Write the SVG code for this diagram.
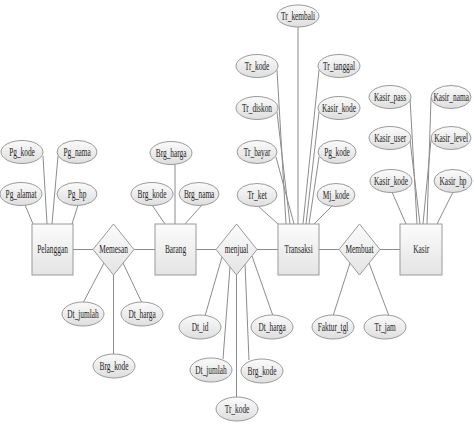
<svg xmlns="http://www.w3.org/2000/svg" width="474" height="425" viewBox="0 0 474 425">
<defs>
<linearGradient id="gE" x1="0" y1="0" x2="0" y2="1"><stop offset="0" stop-color="#fbfbfb"/><stop offset="1" stop-color="#dedede"/></linearGradient>
<linearGradient id="gR" x1="0" y1="0" x2="0" y2="1"><stop offset="0" stop-color="#fcfcfc"/><stop offset="1" stop-color="#e4e4e4"/></linearGradient>
</defs>
<style>
.c line{stroke:#8c8c8c;stroke-width:1;fill:none}
.ent rect{fill:url(#gR);stroke:#9a9a9a;stroke-width:1}
.rel polygon{fill:url(#gR);stroke:#9a9a9a;stroke-width:1}
.att ellipse{fill:url(#gE);stroke:#9a9a9a;stroke-width:1}
text{font-family:"Liberation Serif","Times New Roman",serif;font-size:11.5px;fill:#1e1e1e;text-anchor:middle;transform-box:fill-box;transform-origin:center;transform:scaleX(0.64)}
</style>
<rect width="474" height="425" fill="#fff"/>
<g id="connectors" class="c">
<line x1="43" y1="156" x2="47" y2="224"/><line x1="58" y1="156" x2="52" y2="224"/><line x1="25" y1="205" x2="33" y2="224"/><line x1="78" y1="205" x2="72" y2="224"/>
<line x1="175" y1="164" x2="175" y2="224"/><line x1="152" y1="205" x2="165" y2="224"/><line x1="202" y1="205" x2="185" y2="224"/>
<line x1="298" y1="27" x2="298" y2="224"/><line x1="277" y1="70" x2="286" y2="224"/><line x1="277" y1="112" x2="290" y2="224"/><line x1="276" y1="157" x2="294" y2="224"/><line x1="319" y1="70" x2="303" y2="224"/><line x1="319" y1="112" x2="306" y2="224"/><line x1="319" y1="157" x2="309" y2="224"/><line x1="258" y1="206" x2="278" y2="224"/><line x1="332" y1="206" x2="314" y2="224"/>
<line x1="410" y1="98" x2="417" y2="224"/><line x1="431" y1="98" x2="427" y2="224"/><line x1="410" y1="140" x2="420" y2="224"/><line x1="431" y1="140" x2="423" y2="224"/><line x1="392" y1="192" x2="406" y2="224"/><line x1="453" y1="192" x2="437" y2="224"/>
<line x1="73" y1="249.5" x2="93" y2="249.5"/><line x1="134" y1="249.5" x2="155" y2="249.5"/><line x1="196" y1="249.5" x2="216" y2="249.5"/><line x1="257" y1="249.5" x2="278" y2="249.5"/><line x1="319" y1="249.5" x2="339" y2="249.5"/><line x1="380" y1="249.5" x2="400" y2="249.5"/>
<line x1="83" y1="303" x2="104" y2="263"/><line x1="142" y1="303" x2="123" y2="263"/><line x1="113.5" y1="275" x2="113.5" y2="355"/>
<line x1="205" y1="316" x2="222" y2="257"/><line x1="223" y1="359" x2="230" y2="267"/><line x1="236.5" y1="275" x2="236.5" y2="398"/><line x1="249" y1="360" x2="245" y2="264"/><line x1="273" y1="316" x2="252" y2="256"/>
<line x1="333" y1="316" x2="350" y2="263"/><line x1="389" y1="316" x2="369" y2="263"/>
</g>
<g id="Pelanggan" class="ent"><rect x="32" y="224" width="41" height="51"/><text x="52.5" y="253.5">Pelanggan</text></g>
<g id="Barang" class="ent"><rect x="155" y="224" width="41" height="51"/><text x="175.5" y="253.5">Barang</text></g>
<g id="Transaksi" class="ent"><rect x="278" y="224" width="41" height="51"/><text x="298.5" y="253.5">Transaksi</text></g>
<g id="Kasir" class="ent"><rect x="400" y="224" width="42" height="51"/><text x="421" y="253.5">Kasir</text></g>
<g id="Memesan" class="rel"><polygon points="93,249.5 113.5,224 134,249.5 113.5,275"/><text x="113.5" y="253.5">Memesan</text></g>
<g id="menjual" class="rel"><polygon points="216,249.5 236.5,224 257,249.5 236.5,275"/><text x="236.5" y="253.5">menjual</text></g>
<g id="Membuat" class="rel"><polygon points="339,249.5 359.5,224 380,249.5 359.5,275"/><text x="359.5" y="253.5">Membuat</text></g>
<g id="a_pg_kode" class="att"><ellipse cx="22" cy="152" rx="21" ry="11.5"/><text x="22" y="156">Pg_kode</text></g>
<g id="a_pg_nama" class="att"><ellipse cx="77" cy="152" rx="20" ry="11.5"/><text x="77" y="156">Pg_nama</text></g>
<g id="a_pg_alamat" class="att"><ellipse cx="21" cy="194" rx="21" ry="11.5"/><text x="21" y="198">Pg_alamat</text></g>
<g id="a_pg_hp" class="att"><ellipse cx="77" cy="194" rx="20" ry="11.5"/><text x="77" y="198">Pg_hp</text></g>
<g id="a_brg_harga" class="att"><ellipse cx="171" cy="153" rx="21" ry="11.5"/><text x="171" y="157">Brg_harga</text></g>
<g id="a_brg_kode" class="att"><ellipse cx="152" cy="194" rx="21" ry="11.5"/><text x="152" y="198">Brg_kode</text></g>
<g id="a_brg_nama" class="att"><ellipse cx="199" cy="194" rx="20" ry="11.5"/><text x="199" y="198">Brg_nama</text></g>
<g id="a_tr_kembali" class="att"><ellipse cx="298" cy="16" rx="21" ry="11"/><text x="298" y="20">Tr_kembali</text></g>
<g id="a_tr_kode" class="att"><ellipse cx="257" cy="66" rx="21" ry="11.5"/><text x="257" y="70">Tr_kode</text></g>
<g id="a_tr_tanggal" class="att"><ellipse cx="339" cy="66" rx="21" ry="11.5"/><text x="339" y="70">Tr_tanggal</text></g>
<g id="a_tr_diskon" class="att"><ellipse cx="257" cy="108" rx="21" ry="11.5"/><text x="257" y="112">Tr_diskon</text></g>
<g id="a_tr_kasir_kode" class="att"><ellipse cx="339" cy="108" rx="21" ry="11.5"/><text x="339" y="112">Kasir_kode</text></g>
<g id="a_tr_bayar" class="att"><ellipse cx="257" cy="152" rx="20" ry="11.5"/><text x="257" y="156">Tr_bayar</text></g>
<g id="a_tr_pg_kode" class="att"><ellipse cx="337" cy="152" rx="19" ry="11.5"/><text x="337" y="156">Pg_kode</text></g>
<g id="a_tr_ket" class="att"><ellipse cx="257" cy="195" rx="20" ry="11.5"/><text x="257" y="199">Tr_ket</text></g>
<g id="a_mj_kode" class="att"><ellipse cx="336" cy="195" rx="19" ry="11.5"/><text x="336" y="199">Mj_kode</text></g>
<g id="a_kasir_pass" class="att"><ellipse cx="390" cy="97" rx="21" ry="11.5"/><text x="390" y="101">Kasir_pass</text></g>
<g id="a_kasir_nama" class="att"><ellipse cx="451" cy="97" rx="20" ry="11.5"/><text x="451" y="101">Kasir_nama</text></g>
<g id="a_kasir_user" class="att"><ellipse cx="390" cy="138" rx="21" ry="11.5"/><text x="390" y="142">Kasir_user</text></g>
<g id="a_kasir_level" class="att"><ellipse cx="451" cy="138" rx="20" ry="11.5"/><text x="451" y="142">Kasir_level</text></g>
<g id="a_kasir_kode" class="att"><ellipse cx="391" cy="181" rx="21" ry="11.5"/><text x="391" y="185">Kasir_kode</text></g>
<g id="a_kasir_hp" class="att"><ellipse cx="453" cy="181" rx="19" ry="11.5"/><text x="453" y="185">Kasir_hp</text></g>
<g id="a_ms_dt_jumlah" class="att"><ellipse cx="83" cy="314" rx="21" ry="12"/><text x="83" y="318">Dt_jumlah</text></g>
<g id="a_ms_dt_harga" class="att"><ellipse cx="142" cy="314" rx="21" ry="12"/><text x="142" y="318">Dt_harga</text></g>
<g id="a_ms_brg_kode" class="att"><ellipse cx="114" cy="366" rx="21" ry="12"/><text x="114" y="370">Brg_kode</text></g>
<g id="a_mj_dt_id" class="att"><ellipse cx="200" cy="327" rx="21" ry="12"/><text x="200" y="331">Dt_id</text></g>
<g id="a_mj_dt_harga" class="att"><ellipse cx="272" cy="327" rx="21" ry="12"/><text x="272" y="331">Dt_harga</text></g>
<g id="a_mj_dt_jumlah" class="att"><ellipse cx="211" cy="370" rx="21" ry="12"/><text x="211" y="374">Dt_jumlah</text></g>
<g id="a_mj_brg_kode" class="att"><ellipse cx="262" cy="371" rx="21" ry="12"/><text x="262" y="375">Brg_kode</text></g>
<g id="a_mj_tr_kode" class="att"><ellipse cx="237" cy="409" rx="21" ry="12"/><text x="237" y="413">Tr_kode</text></g>
<g id="a_faktur_tgl" class="att"><ellipse cx="333" cy="327" rx="21" ry="12"/><text x="333" y="331">Faktur_tgl</text></g>
<g id="a_tr_jam" class="att"><ellipse cx="385" cy="327" rx="21" ry="12"/><text x="385" y="331">Tr_jam</text></g>
</svg>
